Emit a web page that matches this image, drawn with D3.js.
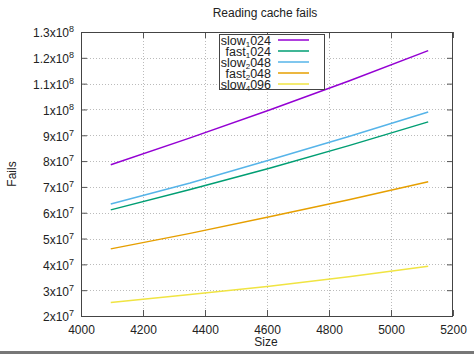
<!DOCTYPE html>
<html>
<head>
<meta charset="utf-8">
<script src="https://cdn.jsdelivr.net/npm/d3@7"></script>
<style>
  body { margin: 0; background: #fff; }
  svg { display: block; font-family: "Liberation Sans", Arial, sans-serif; }
</style>
</head>
<body>
<svg id="chart" width="474" height="354"></svg>
<script>
// data
var sizes = [4096, 4352, 4608, 4864, 5120];
var seriesNames = ["slow_1024", "fast_1024", "slow_2048", "fast_2048", "slow_4096"];
var slow1024 = [7.86e7, 8.9e7, 9.98e7, 11.1e7, 12.28e7];
var fast1024 = [6.11e7, 6.9e7, 7.72e7, 8.6e7, 9.52e7];
var slow2048 = [6.34e7, 7.15e7, 8.04e7, 8.95e7, 9.9e7];
var fast2048 = [4.6e7, 5.2e7, 5.84e7, 6.5e7, 7.2e7];
var slow4096 = [2.52e7, 2.83e7, 3.15e7, 3.52e7, 3.93e7];
var xTicks = [4000, 4200, 4400, 4600, 4800, 5000, 5200];
var yTicks = [2e7, 3e7, 4e7, 5e7, 6e7, 7e7, 8e7, 9e7, 1e8, 1.1e8, 1.2e8, 1.3e8];

var allSeries = [slow1024, fast1024, slow2048, fast2048, slow4096];
var colors = ["#9400d3", "#009e73", "#56b4e9", "#e69f00", "#f0e442"];

var svg = d3.select("#chart");
var plotL = 81, plotR = 453, plotT = 32, plotB = 316;

var x = d3.scaleLinear().domain([4000, 5200]).range([plotL, plotR]);
var y = d3.scaleLinear().domain([2e7, 1.3e8]).range([plotB, plotT]);

// bottom gray strip
svg.append("rect").attr("x", 0).attr("y", 351).attr("width", 474).attr("height", 3).attr("fill", "#777");

// grid
var grid = svg.append("g").attr("stroke", "#bbb").attr("stroke-width", 1).attr("stroke-dasharray", "1,2");
grid.selectAll(".gx").data(xTicks.slice(1, -1)).enter().append("line")
  .attr("x1", function(d) { return Math.round(x(d)) + 0.5; })
  .attr("x2", function(d) { return Math.round(x(d)) + 0.5; })
  .attr("y1", plotT).attr("y2", plotB);
grid.selectAll(".gy").data(yTicks.slice(1, -1)).enter().append("line")
  .attr("y1", function(d) { return Math.round(y(d)) + 0.5; })
  .attr("y2", function(d) { return Math.round(y(d)) + 0.5; })
  .attr("x1", plotL).attr("x2", plotR);

// axes: ticks point inward, mirrored
var axisB = svg.append("g").attr("transform", "translate(0," + plotB + ")")
  .call(d3.axisBottom(x).tickValues(xTicks).tickSize(-6).tickPadding(9).tickFormat(d3.format("d")));
var axisT = svg.append("g").attr("transform", "translate(0," + plotT + ")")
  .call(d3.axisTop(x).tickValues(xTicks).tickSize(-6).tickFormat(""));
var axisL = svg.append("g").attr("transform", "translate(" + plotL + ",0)")
  .call(d3.axisLeft(y).tickValues(yTicks).tickSize(-6).tickPadding(12).tickFormat(""));
var axisR = svg.append("g").attr("transform", "translate(" + plotR + ",0)")
  .call(d3.axisRight(y).tickValues(yTicks).tickSize(-6).tickFormat(""));

[axisB, axisT, axisL, axisR].forEach(function(a) {
  a.select(".domain").remove();
  a.selectAll("line").attr("stroke", "#555");
});
axisB.selectAll("text").attr("font-size", 12).attr("fill", "#222").attr("font-family", "Liberation Sans, Arial, sans-serif");

// y tick labels like 1.3x10^8
axisL.selectAll(".tick").each(function(d) {
  var e = Math.floor(Math.log10(d) + 1e-9);
  var m = +(d / Math.pow(10, e)).toFixed(1);
  var t = d3.select(this).append("text")
    .attr("x", -7).attr("dy", "0.32em").attr("y", 1)
    .attr("text-anchor", "end").attr("fill", "#222").attr("font-size", 12)
    .attr("font-family", "Liberation Sans, Arial, sans-serif");
  t.append("tspan").text(m + "x10");
  t.append("tspan").attr("font-size", 9).attr("dy", "-0.55em").text(e);
});

// border
svg.append("rect").attr("x", plotL + 0.5).attr("y", plotT + 0.5)
  .attr("width", plotR - plotL - 1).attr("height", plotB - plotT)
  .attr("fill", "none").attr("stroke", "#444").attr("stroke-width", 1);

// lines
var line = d3.line()
  .x(function(d, i) { return x(sizes[i]); })
  .y(function(d) { return y(d); });
allSeries.forEach(function(s, i) {
  svg.append("path").datum(s).attr("d", line)
    .attr("fill", "none").attr("stroke", colors[i]).attr("stroke-width", 1.5);
});

// legend
svg.append("rect").attr("x", 219.5).attr("y", 34.5).attr("width", 105).attr("height", 55)
  .attr("fill", "#fff").attr("stroke", "#444");
seriesNames.forEach(function(name, i) {
  var cy = 40 + i * 11;
  var parts = name.split("_");
  var t = svg.append("text").attr("x", 271).attr("y", cy + 4.5)
    .attr("text-anchor", "end").attr("font-size", 12.5).attr("fill", "#222");
  t.append("tspan").text(parts[0]);
  t.append("tspan").attr("font-size", 8).attr("dy", 2.5).text(parts[1].charAt(0));
  t.append("tspan").attr("dy", -2.5).text(parts[1].slice(1));
  svg.append("line").attr("x1", 278).attr("x2", 309).attr("y1", cy).attr("y2", cy)
    .attr("stroke", colors[i]).attr("stroke-width", 1.5);
});

// titles
svg.append("text").attr("x", 265).attr("y", 17).attr("text-anchor", "middle")
  .attr("font-size", 12).attr("fill", "#222").text("Reading cache fails");
svg.append("text").attr("x", 266).attr("y", 346).attr("text-anchor", "middle")
  .attr("font-size", 12).attr("fill", "#222").text("Size");
svg.append("text").attr("transform", "translate(16,174) rotate(-90)").attr("text-anchor", "middle")
  .attr("font-size", 12).attr("fill", "#222").text("Fails");
</script>
</body>
</html>
